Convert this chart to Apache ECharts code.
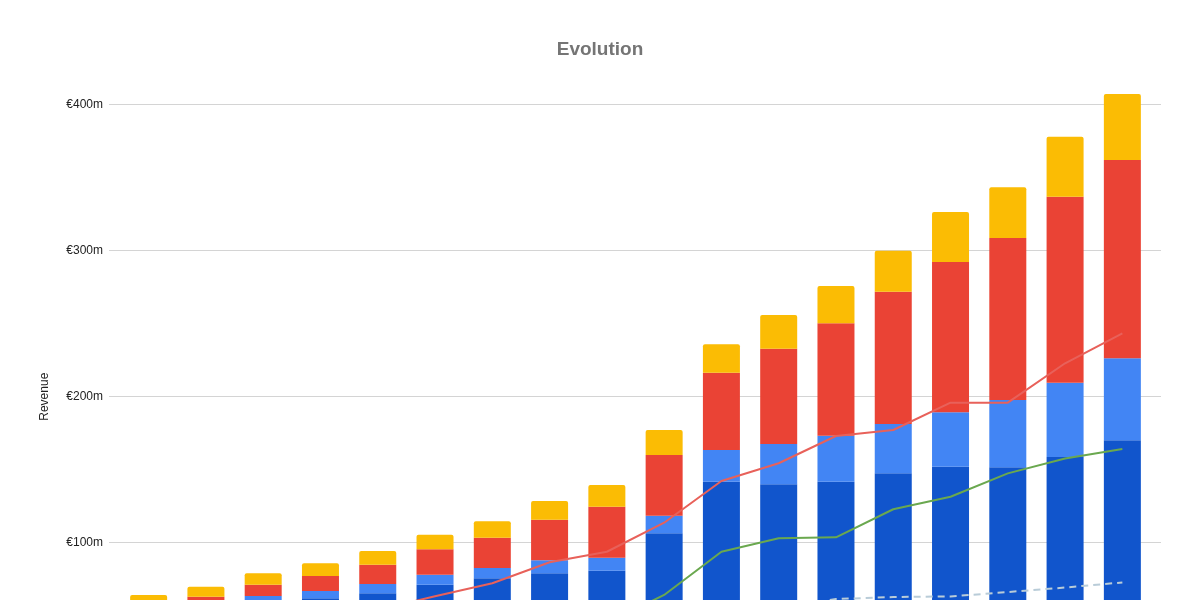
<!DOCTYPE html>
<html>
<head>
<meta charset="utf-8">
<title>Evolution</title>
<script src="https://cdn.jsdelivr.net/npm/echarts@6/dist/echarts.min.js"></script>
<style>
    html,body{margin:0;padding:0;background:#fff;}
    #chart{width:1200px;height:600px;}
</style>
</head>
<body>
<div id="chart"></div>
<script>
// periods (x axis labels fall below the visible area)
var periods=['1','2','3','4','5','6','7','8','9','10','11','12','13','14','15','16','17','18'];

// stacked revenue segments, €m
var darkBlue=[50,53,58,61.9,65.3,71.2,75.6,79,80.8,106.4,141.8,140,141.8,147.5,152.1,151.6,158.7,170.1];
var lightBlue=[3.5,4,5.5,5,6.4,6.9,7.1,8.9,8.9,12.1,21.7,27.6,31.5,33.8,37.2,46.1,50.9,56.2];
var redBars=[4.5,6,7.7,10.3,13.2,17.4,20.7,27.9,35,41.6,52.9,65.3,77,90.6,103,111,127.4,135.8];
var yellowBars=[6.2,6.9,7.8,8.7,9.4,10,11.3,12.8,14.8,17.1,19.5,23.1,25.5,28.1,34.2,34.7,41.1,45.2];

// lines, €m
var redLine=[20,27,35,43,54,63.3,72.2,86.6,93.8,113.7,142.3,154.4,173.1,177.2,195.9,195.9,222.9,243.4];
var greenLine=[12,15,18,22,26,30,35,40,45,64.2,93.8,103,103.7,122.9,131.5,147.5,157.7,164.2];
var dashedLine=[20,22,25,28,31,34,37,40,43,46,50,55,61.4,62.8,63.2,66.2,69.3,72.8];

var yTicks=[0,100,200,300,400];

var chart=echarts.init(document.getElementById('chart'));

function barSeries(name,data,color,top){
    return {
        name:name,
        type:'bar',
        stack:'rev',
        xAxisIndex:1,
        yAxisIndex:1,
        barWidth:37,
        data:data,
        itemStyle:{color:color,borderRadius:top?[2,2,0,0]:0},
        silent:true,
    };
}

function lineSeries(name,data,color,dashed){
    return {
        name:name,
        type:'line',
        xAxisIndex:1,
        yAxisIndex:1,
        data:data,
        symbol:'none',
        lineStyle:{color:color,width:2,type:dashed?[7,5]:'solid'},
        z:5,
    };
}

var option={
    animation:false,
    title:{
        text:'Evolution',
        left:'center',
        top:35,
        textStyle:{fontFamily:'Liberation Sans, Arial, sans-serif',fontSize:19,fontWeight:'bold',color:'#757575'},
    },
    grid:[
        //gridlines and labels, zero line sits below the picture
        {left:109,right:39,top:104.7,height:584,outerBoundsMode:'none'},
        //bars and lines
        {left:120,right:49,top:31.7,height:657,outerBoundsMode:'none'},
    ],
    xAxis:[
        {gridIndex:0,type:'value',show:false,min:0,max:1},
        {gridIndex:1,type:'category',data:periods,show:false},
    ],
    yAxis:[
        {
            gridIndex:0,
            type:'value',
            min:yTicks[0],
            max:yTicks[yTicks.length-1],
            interval:100,
            name:'Revenue',
            nameLocation:'middle',
            nameGap:58,
            nameTextStyle:{fontFamily:'Liberation Sans, Arial, sans-serif',fontSize:12,color:'#222'},
            axisLine:{show:false},
            axisTick:{show:false},
            axisLabel:{
                margin:6,
                fontFamily:'Liberation Sans, Arial, sans-serif',
                fontSize:12,
                color:'#222',
                formatter:function(v){return '€'+v+'m';},
            },
            splitLine:{lineStyle:{color:'#d4d4d4',width:1}},
        },
        {gridIndex:1,type:'value',min:0,max:450,show:false,splitLine:{show:false}},
    ],
    series:[
        barSeries('A',darkBlue,'#1155cc'),
        barSeries('B',lightBlue,'#4285f4'),
        barSeries('C',redBars,'#ea4335'),
        barSeries('D',yellowBars,'#fbbc04',true),
        lineSeries('Red',redLine,'#e8615a'),
        lineSeries('Green',greenLine,'#6aa84f'),
        lineSeries('Dashed',dashedLine,'#b9ccd8',true),
    ],
};

chart.setOption(option);
</script>
</body>
</html>
